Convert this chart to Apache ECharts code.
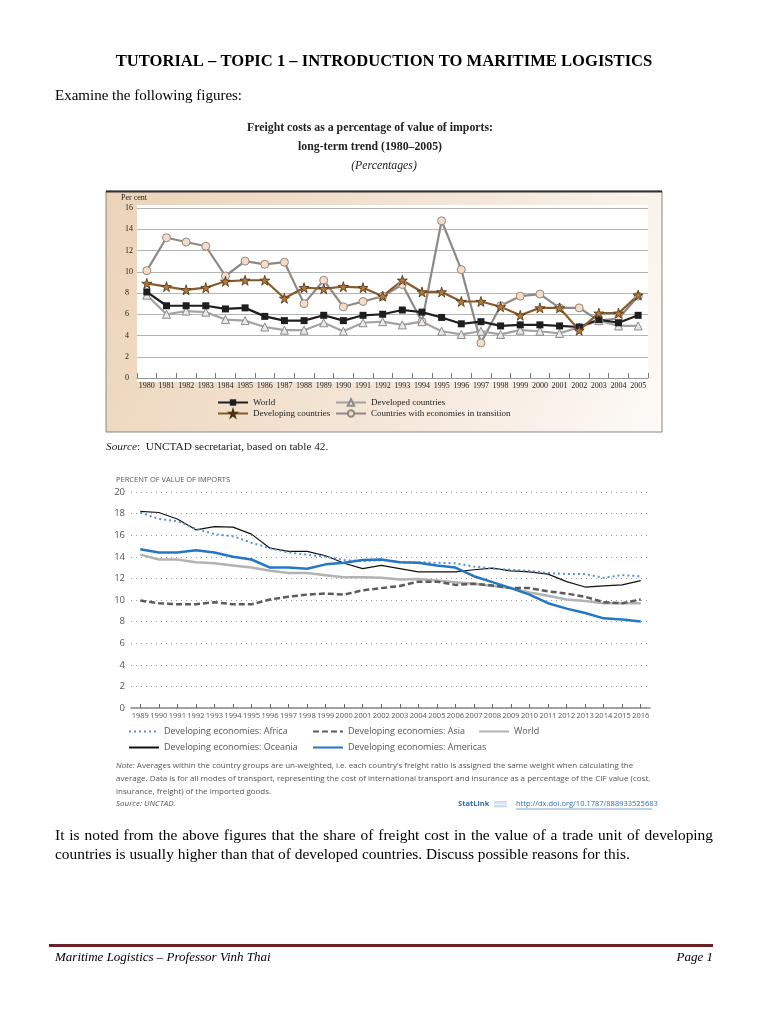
<!DOCTYPE html>
<html><head><meta charset="utf-8">
<script src="https://cdn.jsdelivr.net/npm/echarts@6/dist/echarts.min.js"></script>
<style>html,body{margin:0;padding:0;background:#fff;}#c{width:768px;height:1024px;}</style>
</head><body><div id="c"></div>
<script>
// ---- Figure 1 data (1980-2005) ----
const years1 = ['1980','1981','1982','1983','1984','1985','1986','1987','1988','1989','1990','1991','1992','1993','1994','1995','1996','1997','1998','1999','2000','2001','2002','2003','2004','2005'];
const world1 = [8.1,6.8,6.8,6.8,6.5,6.6,5.8,5.4,5.4,5.9,5.4,5.9,6.0,6.4,6.2,5.7,5.1,5.3,4.9,5.0,5.0,4.9,4.8,5.5,5.2,5.9];
const developed1 = [7.8,6.0,6.3,6.2,5.5,5.4,4.8,4.5,4.5,5.2,4.4,5.2,5.3,5.0,5.3,4.4,4.1,4.4,4.1,4.5,4.4,4.2,4.8,5.4,4.9,4.9];
const developing1 = [8.9,8.6,8.3,8.5,9.1,9.2,9.2,7.5,8.5,8.4,8.6,8.5,7.7,9.2,8.1,8.1,7.2,7.2,6.7,5.9,6.6,6.6,4.5,6.1,6.1,7.8];
const transition1 = [10.1,13.2,12.8,12.4,9.6,11.0,10.7,10.9,7.0,9.2,6.7,7.2,7.7,8.8,5.3,14.8,10.2,3.3,6.8,7.7,7.9,6.6,6.6,5.4,5.6,7.7];

// ---- Figure 2 data (1989-2016) ----
const years2 = ['1989','1990','1991','1992','1993','1994','1995','1996','1997','1998','1999','2000','2001','2002','2003','2004','2005','2006','2007','2008','2009','2010','2011','2012','2013','2014','2015','2016'];
const africa2 = [18.1,17.5,17.3,16.6,16.1,15.9,15.3,14.8,14.4,14.2,14.0,13.7,13.6,13.7,13.5,13.5,13.45,13.4,13.1,12.9,12.8,12.7,12.5,12.4,12.4,12.05,12.3,12.2];
const asia2 = [9.95,9.7,9.6,9.6,9.8,9.6,9.6,10.05,10.3,10.5,10.6,10.5,10.9,11.1,11.3,11.7,11.7,11.4,11.5,11.35,11.1,11.1,10.8,10.6,10.3,9.8,9.7,10.05];
const worldB2 = [14.2,13.75,13.75,13.5,13.4,13.2,13.0,12.7,12.5,12.5,12.3,12.1,12.1,12.05,11.9,11.95,11.8,11.65,11.5,11.3,11.1,10.7,10.4,10.05,9.9,9.7,9.7,9.7];
const oceania2 = [18.2,18.1,17.5,16.5,16.8,16.75,16.1,14.8,14.5,14.5,14.1,13.4,12.9,13.2,12.9,12.6,12.6,12.6,12.8,12.95,12.7,12.6,12.4,11.7,11.2,11.3,11.4,11.8];
const americas2 = [14.7,14.4,14.4,14.6,14.4,14.0,13.75,13.0,13.0,12.9,13.3,13.45,13.7,13.75,13.5,13.45,13.2,13.0,12.2,11.65,11.1,10.5,9.7,9.2,8.8,8.3,8.2,8.0];

const serif = 'Liberation Serif, Times New Roman, serif';
const sans = 'Open Sans, Noto Sans, sans-serif';

const chart = echarts.init(document.getElementById('c'), null, {renderer: 'canvas'});

function txt(x, y, text, style) {
  return {type: 'text', x: x, y: y, silent: true, style: Object.assign({text: text, fill: '#000', font: '15px ' + serif, textVerticalAlign: 'middle'}, style || {})};
}

// justified line: words spread between x0 and x1
const measureCtx = document.createElement('canvas').getContext('2d');
function justified(x0, x1, y, line, font) {
  measureCtx.font = font;
  const words = line.split(' ');
  const widths = words.map(w => measureCtx.measureText(w).width);
  const total = widths.reduce((a, b) => a + b, 0);
  const gap = (x1 - x0 - total) / (words.length - 1);
  const out = [];
  let x = x0;
  words.forEach((w, i) => { out.push(txt(x, y, w, {font: font})); x += widths[i] + gap; });
  return out;
}

const bodyFont = '15.4px ' + serif;
let graphics = [
  // chart 1 beige frame
  {type: 'rect', z: -10, shape: {x: 106, y: 191, width: 556, height: 241},
   style: {fill: new echarts.graphic.LinearGradient(0, 0, 1, 1, [{offset: 0, color: '#ecd3b8'}, {offset: 0.55, color: '#f4e6d8'}, {offset: 1, color: '#fdfaf7'}]), stroke: '#8a8580', lineWidth: 1}},
  {type: 'line', z: -9, shape: {x1: 106, y1: 191.5, x2: 662, y2: 191.5}, style: {stroke: '#333', lineWidth: 2}},
  {type: 'rect', z: -9, shape: {x: 137, y: 205, width: 511, height: 177}, style: {fill: '#fff'}},
  txt(384, 62, 'TUTORIAL \u2013 TOPIC 1 \u2013 INTRODUCTION TO MARITIME LOGISTICS', {font: 'bold 16.6px ' + serif, textAlign: 'center'}),
  txt(55, 96, 'Examine the following figures:', {font: '15px ' + serif}),
  txt(370, 128, 'Freight costs as a percentage of value of imports:', {font: 'bold 11.8px ' + serif, textAlign: 'center', fill: '#222'}),
  txt(370, 147, 'long-term trend (1980\u20132005)', {font: 'bold 11.8px ' + serif, textAlign: 'center', fill: '#222'}),
  txt(384, 166, '(Percentages)', {font: 'italic 11.8px ' + serif, textAlign: 'center', fill: '#222'}),
  txt(121, 198, 'Per cent', {font: '8px ' + serif, fill: '#222'}),
  {type: 'text', x: 106, y: 447, silent: true, style: {text: '{i|Source}:  UNCTAD secretariat, based on table 42.', font: '11.3px ' + serif, fill: '#222', textVerticalAlign: 'middle', rich: {i: {font: 'italic 11.3px ' + serif, fill: '#222'}}}},
  // chart 2 texts
  txt(116, 480, 'PERCENT OF VALUE OF IMPORTS', {font: '7.5px ' + sans, fill: '#555'}),
  {type: 'text', x: 116, y: 766, silent: true, style: {text: '{i|Note:} Averages within the country groups are un-weighted, i.e. each country\u2019s freight ratio is assigned the same weight when calculating the', font: '8px ' + sans, fill: '#555', textVerticalAlign: 'middle', rich: {i: {font: 'italic 8px ' + sans, fill: '#555'}}}},
  txt(116, 779, 'average. Data is for all modes of transport, representing the cost of international transport and insurance as a percentage of the CIF value (cost,', {font: '8px ' + sans, fill: '#555'}),
  txt(116, 792, 'insurance, freight) of the imported goods.', {font: '8px ' + sans, fill: '#555'}),
  txt(116, 804, 'Source: UNCTAD.', {font: 'italic 8px ' + sans, fill: '#555'}),
  txt(458, 804, 'StatLink', {font: 'bold 7.5px ' + sans, fill: '#2a6fb0'}),
  txt(494, 804, '\u2592\u2592\u2592', {font: '6px ' + sans, fill: '#6b9bd1'}),
  txt(516, 804, 'http://dx.doi.org/10.1787/888933525683', {font: '7.5px ' + sans, fill: '#2a6fb0'}),
  {type: 'line', shape: {x1: 516, y1: 809, x2: 652, y2: 809}, style: {stroke: '#2a6fb0', lineWidth: 0.6}},
  // body text line 2
  txt(55, 855, 'countries is usually higher than that of developed countries. Discuss possible reasons for this.', {font: bodyFont}),
  // footer
  {type: 'rect', shape: {x: 49, y: 944, width: 664, height: 3}, style: {fill: '#6b2227'}},
  txt(55, 958, 'Maritime Logistics \u2013 Professor Vinh Thai', {font: 'italic 13px ' + serif}),
  txt(713, 958, 'Page 1', {font: 'italic 13px ' + serif, textAlign: 'right'})
];
graphics = graphics.concat(justified(55, 713, 836, 'It is noted from the above figures that the share of freight cost in the value of a trade unit of developing', bodyFont));

const legText1 = {fontFamily: serif, fontSize: 9, color: '#222'};
const legText2 = {fontFamily: sans, fontSize: 9, color: '#555'};
const legCommon2 = {orient: 'vertical', top: 727, itemWidth: 30, itemHeight: 8, itemGap: 7, padding: 0, textStyle: legText2, selectedMode: false, itemStyle: {opacity: 0}};

const option = {
  animation: false,
  backgroundColor: '#fff',
  graphic: graphics,
  grid: [
    {left: 137, top: 208, width: 511, height: 170},
    {left: 131, top: 492, width: 519, height: 216}
  ],
  xAxis: [
    {gridIndex: 0, type: 'category', data: years1, boundaryGap: true,
     axisLine: {show: true, lineStyle: {color: '#999', width: 1}},
     axisTick: {show: true, inside: true, length: 5, lineStyle: {color: '#777'}},
     axisLabel: {fontFamily: serif, fontSize: 8, color: '#222', margin: 4, interval: 0},
     splitLine: {show: false}},
    {gridIndex: 1, type: 'category', data: years2, boundaryGap: true,
     axisLine: {show: true, lineStyle: {color: '#888', width: 1.5}},
     axisTick: {show: true, inside: true, alignWithLabel: true, length: 4, lineStyle: {color: '#666'}},
     axisLabel: {fontFamily: sans, fontSize: 7.5, color: '#555', margin: 4, interval: 0},
     splitLine: {show: false}}
  ],
  yAxis: [
    {gridIndex: 0, type: 'value', min: 0, max: 16, interval: 2,
     axisLine: {show: false}, axisTick: {show: false},
     axisLabel: {fontFamily: serif, fontSize: 8, color: '#222', margin: 11, align: 'left', padding: [0, 0, 0, -1]},
     splitLine: {show: true, lineStyle: {color: '#b5b5b5', width: 1}}},
    {gridIndex: 1, type: 'value', min: 0, max: 20, interval: 2,
     axisLine: {show: false}, axisTick: {show: false},
     axisLabel: {fontFamily: sans, fontSize: 9.5, color: '#555', margin: 6},
     splitLine: {show: true, lineStyle: {color: '#9a9a9a', width: 1, type: [1, 4]}}}
  ],
  legend: [
    {orient: 'vertical', left: 217, top: 398, itemWidth: 30, itemHeight: 8, itemGap: 2, padding: 0, textStyle: legText1, selectedMode: false,
     data: ['World', 'Developing countries']},
    {orient: 'vertical', left: 335, top: 398, itemWidth: 30, itemHeight: 8, itemGap: 2, padding: 0, textStyle: legText1, selectedMode: false,
     data: ['Developed countries', 'Countries with economies in transition']},
    Object.assign({left: 128, data: ['Developing economies: Africa', 'Developing economies: Oceania']}, legCommon2),
    Object.assign({left: 312, data: ['Developing economies: Asia', 'Developing economies: Americas']}, legCommon2),
    Object.assign({left: 478, data: ['World ']}, legCommon2)
  ],
  series: [
    {name: 'Countries with economies in transition', type: 'line', xAxisIndex: 0, yAxisIndex: 0, data: transition1,
     symbol: 'circle', symbolSize: 8, lineStyle: {color: '#8e8984', width: 2.2},
     itemStyle: {color: '#f6dcc6', borderColor: '#8e8984', borderWidth: 1}},
    {name: 'Developed countries', type: 'line', xAxisIndex: 0, yAxisIndex: 0, data: developed1,
     symbol: 'triangle', symbolSize: 8, lineStyle: {color: '#a3a3a3', width: 2.2},
     itemStyle: {color: '#e9e9e9', borderColor: '#8a8a8a', borderWidth: 1}},
    {name: 'World', type: 'line', xAxisIndex: 0, yAxisIndex: 0, data: world1,
     symbol: 'rect', symbolSize: 7, lineStyle: {color: '#1e1e1e', width: 2.2},
     itemStyle: {color: '#1e1e1e'}},
    {name: 'Developing countries', type: 'line', xAxisIndex: 0, yAxisIndex: 0, data: developing1,
     symbol: 'path://M50,0 L61,35 L98,35 L68,57 L79,91 L50,70 L21,91 L32,57 L2,35 L39,35 Z', symbolSize: 10,
     lineStyle: {color: '#8a5a2b', width: 2.2},
     itemStyle: {color: '#b07a3c', borderColor: '#4a3010', borderWidth: 0.8}},

    {name: 'World ', type: 'line', xAxisIndex: 1, yAxisIndex: 1, data: worldB2, showSymbol: false, symbol: 'none',
     lineStyle: {color: '#b3b3b3', width: 2.5}, itemStyle: {color: '#b3b3b3'}},
    {name: 'Developing economies: Asia', type: 'line', xAxisIndex: 1, yAxisIndex: 1, data: asia2, showSymbol: false, symbol: 'none',
     lineStyle: {color: '#5c5c5c', width: 2.5, type: [6, 3]}, itemStyle: {color: '#5c5c5c'}},
    {name: 'Developing economies: Oceania', type: 'line', xAxisIndex: 1, yAxisIndex: 1, data: oceania2, showSymbol: false, symbol: 'none',
     lineStyle: {color: '#111', width: 1.2}, itemStyle: {color: '#111'}},
    {name: 'Developing economies: Africa', type: 'line', xAxisIndex: 1, yAxisIndex: 1, data: africa2, showSymbol: false, symbol: 'none',
     lineStyle: {color: '#5a8fd8', width: 2, type: [2, 3]}, itemStyle: {color: '#5a8fd8'}},
    {name: 'Developing economies: Americas', type: 'line', xAxisIndex: 1, yAxisIndex: 1, data: americas2, showSymbol: false, symbol: 'none',
     lineStyle: {color: '#2377c4', width: 2.5}, itemStyle: {color: '#2377c4'}}
  ]
};
chart.setOption(option);
</script>
</body></html>
